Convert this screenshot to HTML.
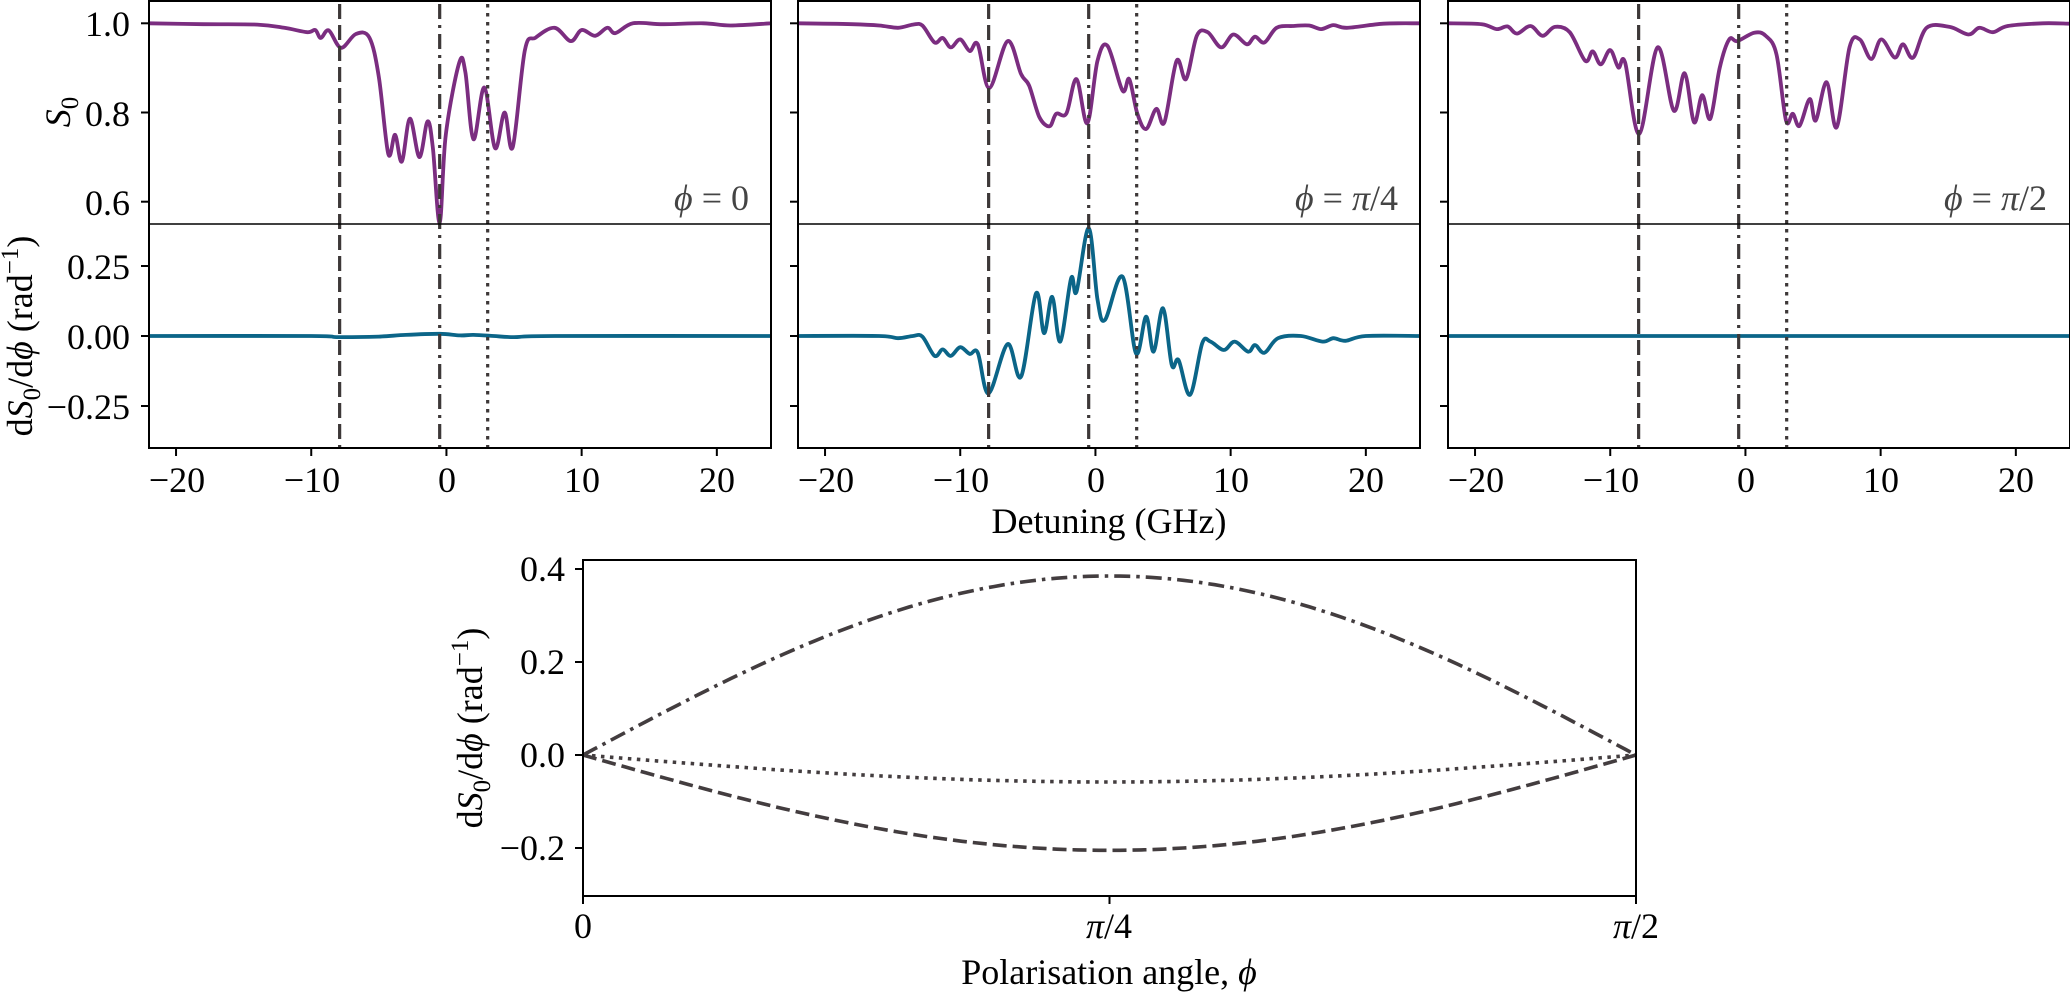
<!DOCTYPE html>
<html><head><meta charset="utf-8">
<style>
html,body{margin:0;padding:0;background:#fff;}
svg{display:block;}
text{font-family:"Liberation Serif","DejaVu Serif",serif;fill:#000;}
</style></head>
<body>
<svg id="s" width="2070" height="994" viewBox="0 0 2070 994" xmlns="http://www.w3.org/2000/svg">
<g id="curves"></g>
<g id="axes" fill="none" stroke="#000" stroke-width="2"></g>
<g font-size="36">
<!-- panel 1 y tick labels -->
<text x="130" y="36" text-anchor="end">1.0</text>
<text x="130" y="126" text-anchor="end">0.8</text>
<text x="130" y="215" text-anchor="end">0.6</text>
<text x="130" y="279" text-anchor="end">0.25</text>
<text x="130" y="349" text-anchor="end">0.00</text>
<text x="130" y="419" text-anchor="end">−0.25</text>
<!-- x tick labels -->
<text x="177" y="492" text-anchor="middle">−20</text>
<text x="312" y="492" text-anchor="middle">−10</text>
<text x="447" y="492" text-anchor="middle">0</text>
<text x="582" y="492" text-anchor="middle">10</text>
<text x="717" y="492" text-anchor="middle">20</text>
<text x="826" y="492" text-anchor="middle">−20</text>
<text x="961" y="492" text-anchor="middle">−10</text>
<text x="1096" y="492" text-anchor="middle">0</text>
<text x="1231" y="492" text-anchor="middle">10</text>
<text x="1366" y="492" text-anchor="middle">20</text>
<text x="1476" y="492" text-anchor="middle">−20</text>
<text x="1611" y="492" text-anchor="middle">−10</text>
<text x="1746" y="492" text-anchor="middle">0</text>
<text x="1881" y="492" text-anchor="middle">10</text>
<text x="2016" y="492" text-anchor="middle">20</text>
<text x="1109" y="533" text-anchor="middle">Detuning (GHz)</text>
<!-- y labels -->
<text transform="translate(70,112) rotate(-90)" text-anchor="middle"><tspan font-style="italic">S</tspan><tspan font-size="25" dy="8">0</tspan></text>
<text transform="translate(32,336) rotate(-90)" text-anchor="middle">d<tspan font-style="italic">S</tspan><tspan font-size="25" dy="8">0</tspan><tspan dy="-8">/d</tspan><tspan font-style="italic">ϕ</tspan> (rad<tspan font-size="25" dy="-14">−1</tspan><tspan dy="14">)</tspan></text>
<!-- phi annotations -->
<text x="749" y="210" text-anchor="end" style="fill:#444"><tspan font-style="italic">ϕ</tspan> =  0</text>
<text x="1398" y="210" text-anchor="end" style="fill:#444"><tspan font-style="italic">ϕ</tspan> =  <tspan font-style="italic">π</tspan>/4</text>
<text x="2047" y="210" text-anchor="end" style="fill:#444"><tspan font-style="italic">ϕ</tspan> =  <tspan font-style="italic">π</tspan>/2</text>
<!-- bottom panel -->
<text x="565" y="581" text-anchor="end">0.4</text>
<text x="565" y="674" text-anchor="end">0.2</text>
<text x="565" y="767" text-anchor="end">0.0</text>
<text x="565" y="860" text-anchor="end">−0.2</text>
<text x="583" y="938" text-anchor="middle">0</text>
<text x="1109" y="938" text-anchor="middle"><tspan font-style="italic">π</tspan>/4</text>
<text x="1636" y="938" text-anchor="middle"><tspan font-style="italic">π</tspan>/2</text>
<text x="1109" y="984" text-anchor="middle">Polarisation angle, <tspan font-style="italic">ϕ</tspan></text>
<text transform="translate(482,728) rotate(-90)" text-anchor="middle">d<tspan font-style="italic">S</tspan><tspan font-size="25" dy="8">0</tspan><tspan dy="-8">/d</tspan><tspan font-style="italic">ϕ</tspan> (rad<tspan font-size="25" dy="-14">−1</tspan><tspan dy="14">)</tspan></text>
</g>
</svg>
<script>
(function(){
var NS="http://www.w3.org/2000/svg";
var C=document.getElementById('curves'), A=document.getElementById('axes');
function el(p,tag,at){var e=document.createElementNS(NS,tag);for(var k in at)e.setAttribute(k,at[k]);p.appendChild(e);return e;}
var L=[149,798,1448], W=622, K=13.52;
function X(i,g){return L[i]+(g+22)*K;}
function YU(v){return 1+(1.05-v)*446;}
function YL(v){return 336-v*280;}
function spline(pts){
  var d="M"+pts[0][0].toFixed(1)+","+pts[0][1].toFixed(1);
  for(var i=0;i<pts.length-1;i++){
    var p0=pts[i-1]||pts[i],p1=pts[i],p2=pts[i+1],p3=pts[i+2]||p2;
    var c1=[p1[0]+(p2[0]-p0[0])/6,p1[1]+(p2[1]-p0[1])/6];
    var c2=[p2[0]-(p3[0]-p1[0])/6,p2[1]-(p3[1]-p1[1])/6];
    d+="C"+c1[0].toFixed(1)+","+c1[1].toFixed(1)+" "+c2[0].toFixed(1)+","+c2[1].toFixed(1)+" "+p2[0].toFixed(1)+","+p2[1].toFixed(1);
  }
  return d;
}
function draw(i,data,upper,color){
  var pts=data.map(function(p){return [X(i,p[0]),upper?YU(p[1]):YL(p[1])];});
  el(C,'path',{d:spline(pts),fill:'none',stroke:color,'stroke-width':3.8,'stroke-linejoin':'round'});
}
var PU='#7b2d80', TE='#0b6588';
var s1=[[-22,1.0],[-18,0.998],[-14,0.997],[-12,0.99],[-10.3,0.98],[-9.7,0.985],[-9.3,0.967],[-8.7,0.984],[-7.8,0.945],[-6.7,0.976],[-5.7,0.968],[-5.0,0.88],[-4.3,0.707],[-3.8,0.75],[-3.3,0.69],[-2.7,0.786],[-2.0,0.70],[-1.4,0.78],[-1.0,0.72],[-0.5,0.553],[-0.05,0.75],[0.95,0.912],[1.4,0.89],[2.0,0.74],[2.8,0.856],[3.6,0.72],[4.3,0.80],[4.9,0.722],[5.8,0.94],[6.6,0.968],[8.0,0.99],[9.2,0.96],[10.0,0.985],[11.0,0.972],[11.9,0.99],[12.5,0.978],[13.8,1.0],[16,0.998],[19,1.0],[21,0.995],[24,1.0]];
var s2=[[-22,1.0],[-18,0.998],[-16,0.995],[-14.6,0.99],[-13.5,0.997],[-12.8,0.995],[-11.9,0.957],[-11.3,0.967],[-10.7,0.946],[-10.0,0.964],[-9.3,0.938],[-8.7,0.953],[-7.85,0.855],[-6.5,0.96],[-5.5,0.886],[-4.9,0.86],[-4.15,0.79],[-3.4,0.769],[-2.9,0.797],[-2.15,0.798],[-1.4,0.875],[-0.6,0.776],[0.15,0.916],[0.9,0.949],[2.0,0.849],[2.5,0.875],[3.1,0.797],[3.75,0.763],[4.5,0.808],[5.1,0.778],[6.0,0.916],[6.7,0.875],[7.5,0.972],[8.3,0.98],[9.3,0.946],[10.2,0.975],[11.2,0.953],[11.8,0.97],[12.5,0.957],[13.4,0.99],[14.6,0.994],[15.8,0.995],[16.7,0.987],[17.6,0.996],[18.6,0.99],[21.3,0.999],[24,1.0]];
var s3=[[-22,1.0],[-19.5,0.998],[-18.4,0.987],[-17.6,0.993],[-16.9,0.977],[-15.9,0.994],[-15.0,0.972],[-14.1,0.992],[-13.0,0.98],[-11.85,0.916],[-11.3,0.937],[-10.7,0.908],[-10.0,0.94],[-9.4,0.901],[-8.9,0.912],[-7.85,0.752],[-6.5,0.946],[-5.3,0.804],[-4.5,0.888],[-3.8,0.778],[-3.2,0.839],[-2.6,0.786],[-1.9,0.901],[-1.2,0.964],[-0.6,0.96],[0.65,0.979],[1.5,0.972],[2.3,0.93],[3.0,0.782],[3.5,0.797],[4.0,0.77],[4.75,0.83],[5.2,0.782],[6.0,0.868],[6.75,0.767],[7.7,0.946],[8.45,0.964],[9.3,0.92],[10.05,0.964],[11.05,0.923],[11.65,0.953],[12.4,0.923],[13.4,0.99],[15.1,0.992],[16.5,0.975],[17.3,0.99],[18.3,0.98],[19.4,0.994],[22,1.0],[24,0.999]];
var d1=[[-22,0],[-10,0],[-8,-0.004],[-5,-0.002],[-3,0.004],[-0.5,0.008],[1,0.002],[2,0.004],[3.5,0.0],[5,-0.004],[8,0],[24,0]];
var d2=[[-22,0],[-16,0],[-14.6,-0.008],[-13.5,0],[-12.8,-0.002],[-11.9,-0.071],[-11.3,-0.048],[-10.7,-0.071],[-10.0,-0.04],[-9.3,-0.064],[-8.7,-0.06],[-7.9,-0.205],[-6.5,-0.029],[-5.5,-0.145],[-4.4,0.152],[-3.8,0.01],[-3.2,0.14],[-2.6,-0.02],[-1.8,0.206],[-1.4,0.158],[-0.5,0.385],[0.15,0.13],[0.7,0.057],[2.0,0.212],[3.0,-0.062],[3.75,0.069],[4.3,-0.056],[5.0,0.099],[5.65,-0.104],[6.15,-0.086],[7.0,-0.21],[7.9,-0.026],[8.5,-0.02],[9.5,-0.05],[10.3,-0.02],[11.3,-0.056],[11.8,-0.032],[12.5,-0.06],[13.5,-0.008],[15.2,0],[16.8,-0.02],[17.6,-0.008],[18.5,-0.017],[20,0],[24,0]];
var d3=[[-22,0],[24,0]];
draw(0,s1,true,PU);draw(1,s2,true,PU);draw(2,s3,true,PU);
draw(0,d1,false,TE);draw(1,d2,false,TE);draw(2,d3,false,TE);
var VL=[[-7.9,'15,6'],[-0.5,'15,6,3,6'],[3.05,'3.5,5.5']];
for(var i=0;i<3;i++){VL.forEach(function(v){var x=X(i,v[0]);el(C,'line',{x1:x,y1:4,x2:x,y2:447,stroke:'#3d3838','stroke-width':3.2,'stroke-dasharray':v[1]});});}
for(var i=0;i<3;i++){
  el(A,'rect',{x:L[i],y:1,width:W,height:447});
  el(A,'line',{x1:L[i],y1:224,x2:L[i]+W,y2:224,'stroke-width':1.6});
  [1.0,0.8,0.6].forEach(function(v){el(A,'line',{x1:L[i]-8,y1:YU(v),x2:L[i],y2:YU(v)});});
  [0.25,0,-0.25].forEach(function(v){el(A,'line',{x1:L[i]-8,y1:YL(v),x2:L[i],y2:YL(v)});});
  [-20,-10,0,10,20].forEach(function(g){el(A,'line',{x1:X(i,g),y1:448,x2:X(i,g),y2:456});});
}
el(A,'rect',{x:583,y:560,width:1053,height:336});
[0.4,0.2,0,-0.2].forEach(function(v){var y=755-v*465;el(A,'line',{x1:575,y1:y,x2:583,y2:y});});
[0,0.5,1].forEach(function(f){var x=583+f*1053;el(A,'line',{x1:x,y1:896,x2:x,y2:904});});
function bc(a,dash){var pts=[];for(var k=0;k<=100;k++){var f=k/100;pts.push((583+f*1053).toFixed(1)+","+(755-a*Math.sin(Math.PI*f)*465).toFixed(1));}
 el(C,'polyline',{points:pts.join(' '),fill:'none',stroke:'#433d3f','stroke-width':3.6,'stroke-dasharray':dash});}
bc(0.385,'16,6,3.5,6');bc(-0.205,'14,6');bc(-0.058,'3.5,5.5');
})();
</script>
</body></html>
